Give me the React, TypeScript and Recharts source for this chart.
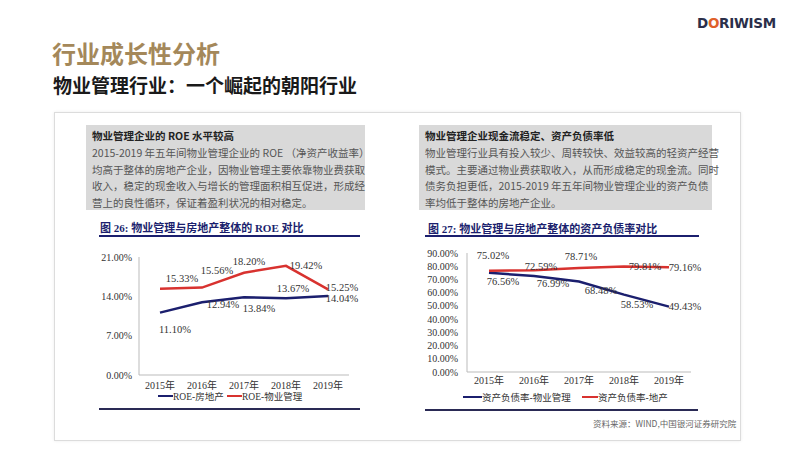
import React from 'react';
import { LineChart, Line, XAxis, YAxis, LabelList } from 'recharts';

// values
const years = ['2015年', '2016年', '2017年', '2018年', '2019年'];
const roeRealEstate = [11.10, 12.94, 13.84, 13.67, 14.04];
const roeProperty = [15.33, 15.56, 18.20, 19.42, 15.25];
const roeTicks = [0, 7, 14, 21];
const debtProperty = [75.02, 72.59, 68.48, 58.53, 49.43];
const debtRealEstate = [76.56, 76.99, 78.71, 79.81, 79.16];
const debtTicks = [0, 10, 20, 30, 40, 50, 60, 70, 80, 90];

// label nudges (dx, dy) from each point, as placed in the source chart
const roeReShift = [[15, 17], [21, 2], [15, 11], [7, -10], [14, 2]];
const roePmShift = [[22, -10], [15, -17], [5, -11], [20, 0], [14, -2]];
const debtPmShift = [[4, -17], [7, -10], [22, 9], [13, 10], [16, 0]];
const debtReShift = [[14, 11], [19, 13], [2, -11], [21, 0], [16, 0]];

const NAVY = '#1b1f6e';
const RED = '#d8322f';
const SERIF = '"Liberation Serif", "Noto Sans CJK SC", serif';
const SANS = '"Noto Sans CJK SC", "Noto Sans", sans-serif';

const pct = (v: number) => `${v.toFixed(2)}%`;

const shiftedLabel = (shift: number[][]) => (props: any) => {
  const { x, y, value, index } = props;
  const [dx, dy] = shift[index] || [0, 0];
  return (
    <text x={x + dx} y={y + dy} textAnchor="middle" dominantBaseline="central"
      fontSize={10.5} fontFamily={SERIF} fill="#333">
      {pct(value)}
    </text>
  );
};

function LegendItem({ color, label, x, y, seg }: { color: string; label: string; x: number; y: number; seg: number }) {
  return (
    <div style={{ position: 'absolute', left: x, top: y - 7, height: 14, display: 'flex', alignItems: 'center', whiteSpace: 'nowrap' }}>
      <div style={{ width: seg, height: 2.5, background: color }} />
      <span style={{ fontFamily: SERIF, fontSize: 9.5, color: '#333' }}>{label}</span>
    </div>
  );
}

function RoeChart() {
  const data = years.map((y, i) => ({ year: y, re: roeRealEstate[i], pm: roeProperty[i] }));
  return (
    <div style={{ position: 'absolute', left: 80, top: 245 }}>
      <LineChart width={320} height={150} data={data} margin={{ top: 12, right: 51, bottom: 0, left: 4 }}>
        <XAxis dataKey="year" height={20} tickSize={0} tickMargin={7} stroke="#bbb" interval={0}
          padding={{ left: 21, right: 21 }}
          tick={{ fill: '#333', fontSize: 10, fontFamily: SERIF }} />
        <YAxis width={55} domain={[0, 21]} ticks={roeTicks} tickFormatter={pct} tickSize={0} tickMargin={7}
          interval={0} stroke="#bbb" tick={{ fill: '#333', fontSize: 10, fontFamily: SERIF }} />
        <Line dataKey="re" stroke={NAVY} strokeWidth={2.5} dot={false} isAnimationActive={false}>
          <LabelList dataKey="re" content={shiftedLabel(roeReShift)} />
        </Line>
        <Line dataKey="pm" stroke={RED} strokeWidth={2.5} dot={false} isAnimationActive={false}>
          <LabelList dataKey="pm" content={shiftedLabel(roePmShift)} />
        </Line>
      </LineChart>
    </div>
  );
}

function DebtChart() {
  const data = years.map((y, i) => ({ year: y, pm: debtProperty[i], re: debtRealEstate[i] }));
  return (
    <div style={{ position: 'absolute', left: 400, top: 243 }}>
      <LineChart width={340} height={149} data={data} margin={{ top: 10, right: 49, bottom: 0, left: 4 }}>
        <XAxis dataKey="year" height={20} tickSize={0} tickMargin={5} stroke="#bbb" interval={0}
          padding={{ left: 22, right: 22 }}
          tick={{ fill: '#333', fontSize: 10, fontFamily: SERIF }} />
        <YAxis width={63} domain={[0, 90]} ticks={debtTicks} tickFormatter={pct} tickSize={0} tickMargin={9}
          interval={0} stroke="#bbb" tick={{ fill: '#333', fontSize: 10, fontFamily: SERIF }} />
        <Line dataKey="pm" stroke={NAVY} strokeWidth={2.5} dot={false} isAnimationActive={false}>
          <LabelList dataKey="pm" content={shiftedLabel(debtPmShift)} />
        </Line>
        <Line dataKey="re" stroke={RED} strokeWidth={2.5} dot={false} isAnimationActive={false}>
          <LabelList dataKey="re" content={shiftedLabel(debtReShift)} />
        </Line>
      </LineChart>
    </div>
  );
}

function TextBox({ left, width, head, lines }: { left: number; width: number; head: string; lines: string[] }) {
  return (
    <div style={{ position: 'absolute', left, top: 125, width, height: 85, background: '#d9d9d9', fontFamily: SANS }}>
      <div style={{ position: 'absolute', left: 6, top: 3, fontSize: 10.5, fontWeight: 700, color: '#222', lineHeight: '16px' }}>{head}</div>
      {lines.map((t, i) => (
        <div key={i} style={{
          position: 'absolute', left: 6, top: 20 + i * 16.5, width: width - 14, fontSize: 10.5, color: '#555',
          lineHeight: '16px', whiteSpace: 'nowrap',
          textAlign: 'justify', textAlignLast: i < lines.length - 1 ? 'justify' : 'left',
        }}>{t}</div>
      ))}
    </div>
  );
}

export default function App() {
  return (
    <div style={{ position: 'absolute', left: 0, top: 0, width: 794, height: 453, background: '#fff', overflow: 'hidden', fontFamily: SANS }}>
      <div style={{ position: 'absolute', left: 697, top: 15, fontFamily: '"DejaVu Sans", sans-serif', fontWeight: 700, fontSize: 13.5, color: '#2b2f4a', letterSpacing: -0.3 }}>
        D<span style={{ color: '#e0602a' }}>O</span>RIWISM
      </div>
      <div style={{ position: 'absolute', left: 52, top: 38, fontSize: 24, fontWeight: 700, color: '#a4885a', lineHeight: '30px' }}>行业成长性分析</div>
      <div style={{ position: 'absolute', left: 53, top: 72, fontSize: 19, fontWeight: 700, color: '#1a1a1a', lineHeight: '26px' }}>物业管理行业：一个崛起的朝阳行业</div>

      <div style={{ position: 'absolute', left: 54, top: 112, width: 685, height: 327, border: '1px solid #dcdcdc', boxShadow: '0 0 3px rgba(0,0,0,0.08)', background: '#fff' }} />

      <TextBox left={86} width={279} head="物业管理企业的 ROE 水平较高" lines={[
        '2015-2019 年五年间物业管理企业的 ROE （净资产收益率）',
        '均高于整体的房地产企业，因物业管理主要依靠物业费获取',
        '收入，稳定的现金收入与增长的管理面积相互促进，形成经',
        '营上的良性循环，保证着盈利状况的相对稳定。',
      ]} />
      <TextBox left={419} width={293} head="物业管理企业现金流稳定、资产负债率低" lines={[
        '物业管理行业具有投入较少、周转较快、效益较高的轻资产经营',
        '模式。主要通过物业费获取收入，从而形成稳定的现金流。同时',
        '债务负担更低，2015-2019 年五年间物业管理企业的资产负债',
        '率均低于整体的房地产企业。',
      ]} />

      <div style={{ position: 'absolute', left: 100, top: 219, fontSize: 11, fontWeight: 700, color: NAVY, fontFamily: SERIF, whiteSpace: 'nowrap' }}>图 26:  物业管理与房地产整体的 ROE 对比</div>
      <div style={{ position: 'absolute', left: 99, top: 235, width: 261, height: 2, background: NAVY }} />
      <div style={{ position: 'absolute', left: 428, top: 220, fontSize: 11, fontWeight: 700, color: NAVY, fontFamily: SERIF, whiteSpace: 'nowrap' }}>图 27:  物业管理与房地产整体的资产负债率对比</div>
      <div style={{ position: 'absolute', left: 425, top: 235, width: 274, height: 2, background: NAVY }} />

      <RoeChart />
      <DebtChart />

      <LegendItem color={NAVY} label="ROE-房地产" x={158} y={396} seg={15} />
      <LegendItem color={RED} label="ROE-物业管理" x={227} y={396} seg={15} />
      <LegendItem color={NAVY} label="资产负债率-物业管理" x={463} y={397} seg={19} />
      <LegendItem color={RED} label="资产负债率-地产" x={582} y={397} seg={16} />

      <div style={{ position: 'absolute', left: 99, top: 408, width: 261, height: 2, background: '#2a2a55' }} />
      <div style={{ position: 'absolute', left: 425, top: 409, width: 273, height: 2, background: '#2a2a55' }} />

      <div style={{ position: 'absolute', left: 593, top: 417, fontSize: 8.5, color: '#666', whiteSpace: 'nowrap' }}>资料来源：WIND,中国银河证券研究院</div>
    </div>
  );
}
